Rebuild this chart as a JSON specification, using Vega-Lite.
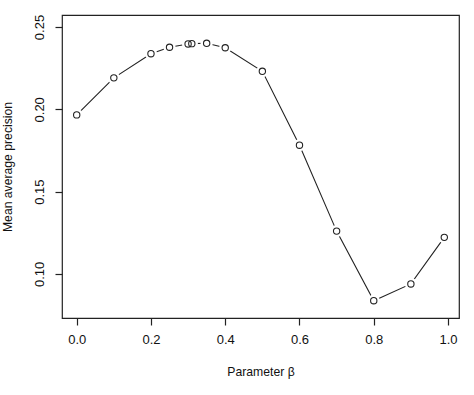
{
  "$schema": "https://vega.github.io/schema/vega-lite/v6.json",
  "width": 397,
  "height": 303,
  "autosize": "none",
  "padding": {"left": 62, "top": 15, "right": 15, "bottom": 77},
  "background": "white",
  "config": {
    "view": {"stroke": "#222", "strokeWidth": 1.2},
    "font": "Liberation Sans",
    "axis": {
      "domain": false,
      "grid": false,
      "tickColor": "#222",
      "tickSize": 7,
      "tickWidth": 1.2,
      "labelFont": "Liberation Sans",
      "labelFontSize": 13,
      "labelColor": "#111",
      "titleFont": "Liberation Sans",
      "titleFontSize": 12.2,
      "titleFontWeight": "normal",
      "titleColor": "#111"
    }
  },
  "data": {
    "values": [
      {"beta": 0.0, "map": 0.1966},
      {"beta": 0.1, "map": 0.2191},
      {"beta": 0.2, "map": 0.2338},
      {"beta": 0.25, "map": 0.2377},
      {"beta": 0.3, "map": 0.2397},
      {"beta": 0.31, "map": 0.2399},
      {"beta": 0.35, "map": 0.2401},
      {"beta": 0.4, "map": 0.2374},
      {"beta": 0.5, "map": 0.2231},
      {"beta": 0.6, "map": 0.1782},
      {"beta": 0.7, "map": 0.126},
      {"beta": 0.8, "map": 0.0837},
      {"beta": 0.9, "map": 0.0939},
      {"beta": 0.99, "map": 0.1222}
    ]
  },
  "encoding": {
    "x": {
      "field": "beta",
      "type": "quantitative",
      "scale": {"domain": [-0.0396, 1.0296], "nice": false, "zero": false},
      "axis": {
        "values": [0, 0.2, 0.4, 0.6, 0.8, 1.0],
        "format": ".1f",
        "title": "Parameter β",
        "labelPadding": 8,
        "titlePadding": 19
      }
    },
    "y": {
      "field": "map",
      "type": "quantitative",
      "scale": {"domain": [0.0732, 0.2573], "nice": false, "zero": false},
      "axis": {
        "values": [0.10, 0.15, 0.20, 0.25],
        "format": ".2f",
        "title": "Mean average precision",
        "labelAngle": -90,
        "labelAlign": "center",
        "labelBaseline": "bottom",
        "labelPadding": 9,
        "titlePadding": 19
      }
    }
  },
  "layer": [
    {"mark": {"type": "line", "color": "#222", "strokeWidth": 1.1}},
    {"mark": {"type": "point", "shape": "circle", "filled": true, "color": "white", "opacity": 1, "size": 150}},
    {"mark": {"type": "point", "shape": "circle", "filled": false, "color": "#222", "opacity": 1, "strokeWidth": 1.1, "size": 40}}
  ]
}
